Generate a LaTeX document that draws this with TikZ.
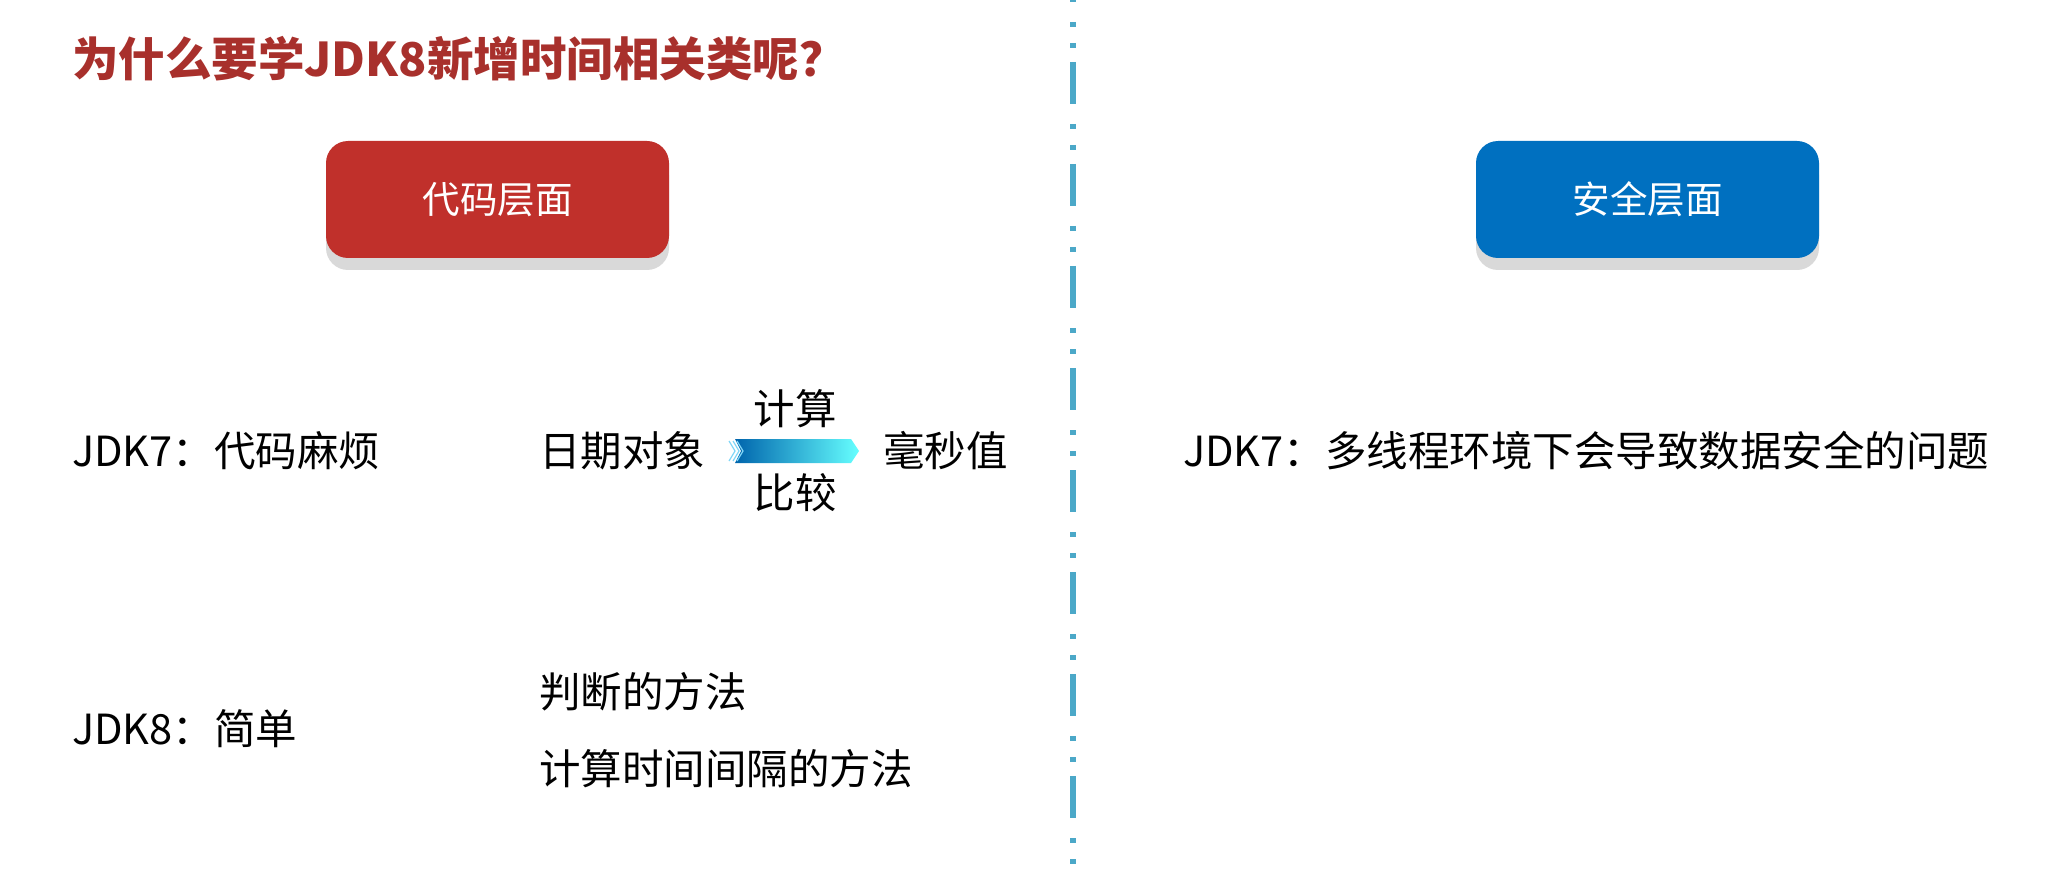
\documentclass[tikz,border=0pt]{standalone}
\usepackage{fontspec}
\setmainfont{Noto Sans CJK SC}
\usetikzlibrary{shadows}
\definecolor{tred}{HTML}{A8302C}
\definecolor{bred}{HTML}{C0302B}
\definecolor{bblue}{HTML}{0070C0}
\definecolor{divc}{HTML}{4BA8C8}
\begin{document}
\begin{tikzpicture}[x=1pt,y=-1pt,
  txt/.style={anchor=west,inner sep=0pt,font=\fontsize{41.5}{45}\selectfont},
  ctxt/.style={inner sep=0pt,font=\fontsize{41.5}{45}\selectfont},
  hbox/.style={rounded corners=22pt,minimum width=343pt,minimum height=117pt,text=white,font=\fontsize{37.5}{40}\selectfont,drop shadow={shadow xshift=0pt,shadow yshift=-12pt,fill=black!15,opacity=1}}]
\useasboundingbox (0,0) rectangle (2060,877);
\node[anchor=west,inner sep=0pt,text=tred,font=\fontsize{46.5}{50}\selectfont\bfseries] (title) at (72,59) {为什么要学JDK8新增时间相关类呢？};
\node[hbox,fill=bred] (code) at (497.5,199.5) {代码层面};
\node[hbox,fill=bblue] (safe) at (1647.5,199.5) {安全层面};
\draw[divc,line width=6pt,dash pattern=on 42pt off 20pt on 5pt off 16pt on 5pt off 14pt] (1073,-40) coordinate (d1) -- (1073,877) coordinate (d2);
\node[txt] (j7) at (72,451) {JDK7：代码麻烦};
\node[txt] (date) at (539,451) {日期对象};
\shade[left color=bblue!90!black,right color=cyan!60] (735,439) -- (851,439) -- (859,451) -- (851,463) -- (735,463) -- (741,451) -- cycle;
\foreach \i in {0,4,8}{\draw[cyan!50,line width=1.2pt] (729+\i,441) -- (735+\i,451) -- (729+\i,461);}
\coordinate (arr) at (795,451);
\node[ctxt] (calc) at (795,409) {计算};
\node[ctxt] (cmp) at (795,493) {比较};
\node[txt] (ms) at (883,451) {毫秒值};
\node[txt] (j8) at (72,729) {JDK8：简单};
\node[txt] (judge) at (539,692) {判断的方法};
\node[txt] (interval) at (539,769) {计算时间间隔的方法};
\node[txt] (j7b) at (1183,451) {JDK7：多线程环境下会导致数据安全的问题};
\end{tikzpicture}
\end{document}
